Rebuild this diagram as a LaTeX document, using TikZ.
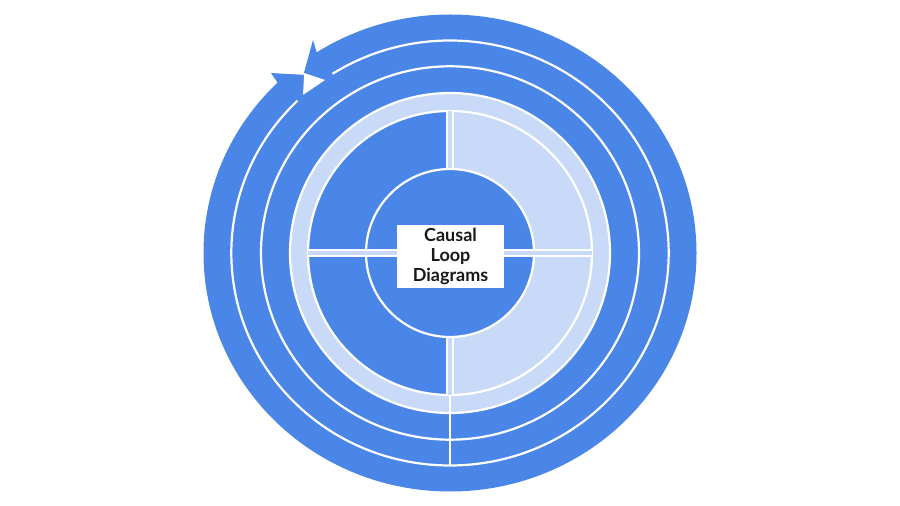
\documentclass[tikz,border=0pt]{standalone}
\usepackage{fontspec}
\setmainfont{Lato}
\definecolor{cblue}{RGB}{74,134,232}
\definecolor{clight}{RGB}{201,218,248}
\definecolor{ctext}{RGB}{25,25,25}
\begin{document}
\begin{tikzpicture}[x=1pt,y=1pt,
  gapline/.style={draw=white,line width=2.2pt},
  divwhite/.style={draw=white,line width=8pt},
  divlight/.style={draw=clight,line width=4pt},
  labelbox/.style={fill=white,minimum width=107pt,minimum height=63pt,inner sep=0pt,align=center,
    font=\fontsize{18}{20}\selectfont\bfseries,text=ctext}]
\useasboundingbox (0,0) rectangle (900,506);
\fill[white] (0,0) rectangle (900,506);
\coordinate (c) at (450,253);
% outer rings
\fill[cblue] (c) ellipse [x radius=246.5pt, y radius=238.5pt];
\draw[gapline] ([shift={(134.2:218.7 and 212.5)}]c) arc[start angle=134.2, end angle=482.5, x radius=218.7pt, y radius=212.5pt];
\draw[gapline] (c) ellipse [x radius=189pt, y radius=186.7pt];
% light ring
\filldraw[fill=clight, gapline] (c) circle[radius=160pt];
\draw[gapline] (450,111) -- (450,40.5);
% quadrants
\fill[cblue] (450,395) arc[start angle=90, end angle=270, radius=142pt] -- cycle;
\draw[gapline] (c) circle[radius=142pt];
\draw[divwhite] (450,111) -- (450,395);
\draw[divlight] (450,111) -- (450,395);
% inner circle
\filldraw[fill=cblue, gapline] (c) circle[radius=84pt];
\draw[divwhite] (308,253) -- (592,253);
\draw[divlight] (308,253) -- (592,253);
% label
\node[labelbox] (label) at (450.5,249.5) {Causal\\Loop\\Diagrams};
% arrow heads meeting at top-left
\fill[white] (271,433) -- (303.5,431) -- (313,466) -- (290,461) -- cycle;
\fill[cblue] (313,466) -- (304,433) -- (325,426) -- cycle;
\fill[white] (304,433) -- (325,426) -- (303,411) -- cycle;
\fill[cblue] (271,433) -- (303.5,431) -- (303,411) -- (288,408) -- cycle;
\end{tikzpicture}
\end{document}
